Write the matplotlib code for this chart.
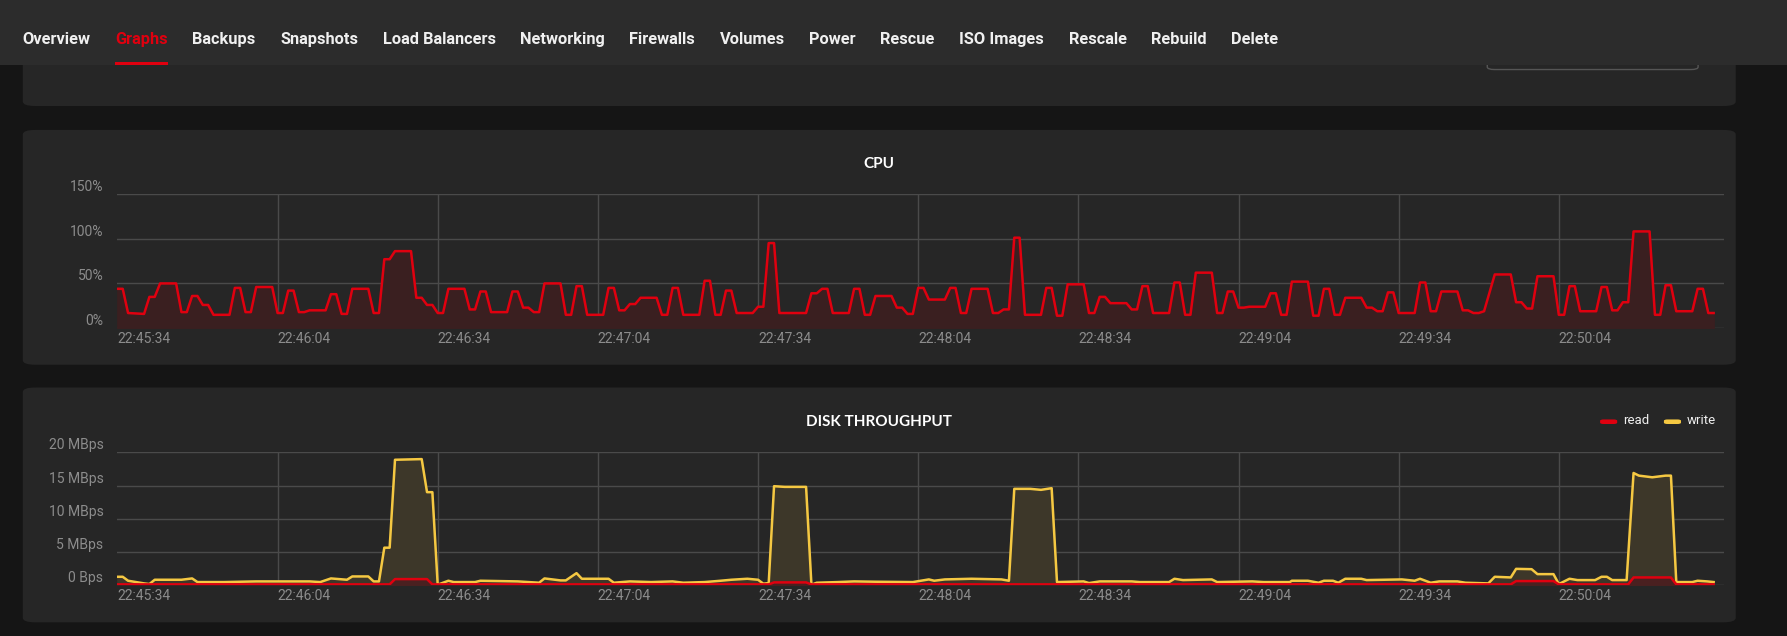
import matplotlib.pyplot as plt
from matplotlib.patches import FancyBboxPatch, Rectangle

# ---- data (seconds from 22:45:34) ----
tick_labels = ['22:45:34', '22:46:04', '22:46:34', '22:47:04', '22:47:34',
               '22:48:04', '22:48:34', '22:49:04', '22:49:34', '22:50:04']
tick_secs = [0, 30, 60, 90, 120, 150, 180, 210, 240, 270]

cpu_t = [0, 1, 2, 5, 6, 7, 8, 11, 12, 13, 14, 15, 16, 17, 18, 21, 22, 23, 24, 25, 26, 29, 30, 31,
         32, 33, 34, 35, 36, 39, 40, 41, 42, 43, 44, 47, 48, 49, 50, 51, 52, 55, 56, 57, 58, 59,
         60, 61, 62, 65, 66, 67, 68, 69, 70, 73, 74, 75, 76, 77, 78, 79, 80, 83, 84, 85, 86, 87,
         88, 91, 92, 93, 94, 95, 96, 97, 98, 101, 102, 103, 104, 105, 106, 109, 110, 111, 112, 113,
         114, 115, 116, 119, 120, 121, 122, 123, 124, 129, 130, 131, 132, 133, 134, 137, 138, 139,
         140, 141, 142, 145, 146, 147, 148, 149, 150, 151, 152, 155, 156, 157, 158, 159, 160, 163,
         164, 165, 166, 167, 168, 169, 170, 173, 174, 175, 176, 177, 178, 181, 182, 183, 184, 185,
         186, 189, 190, 191, 192, 193, 194, 197, 198, 199, 200, 201, 202, 205, 206, 207, 208, 209,
         210, 211, 212, 215, 216, 217, 218, 219, 220, 223, 224, 225, 226, 227, 228, 229, 230, 233,
         234, 235, 236, 237, 238, 239, 240, 243, 244, 245, 246, 247, 248, 251, 252, 253, 254, 255,
         256, 258, 261, 262, 263, 264, 265, 266, 269, 270, 271, 272, 273, 274, 277, 278, 279, 280,
         281, 282, 283, 284, 287, 288, 289, 290, 291, 292, 295, 296, 297, 298, 299]
cpu_v = [44, 44, 17, 16, 35, 35, 50, 50, 18, 18, 36, 36, 26, 26, 15, 15, 45, 45, 18, 18, 46, 46, 17, 17,
         42, 42, 18, 18, 20, 20, 38, 38, 16, 16, 44, 44, 17, 17, 77, 77, 86, 86, 34, 34, 26, 26,
         17, 17, 44, 44, 21, 21, 41, 41, 18, 18, 41, 41, 23, 23, 18, 18, 50, 50, 15, 15, 47, 47,
         15, 15, 45, 45, 20, 20, 27, 27, 34, 34, 15, 15, 45, 45, 15, 15, 53, 53, 15, 15,
         42, 42, 17, 17, 24, 24, 95, 95, 17, 17, 39, 39, 44, 44, 17, 17, 44, 44,
         15, 15, 36, 36, 23, 23, 16, 16, 45, 45, 32, 32, 45, 45, 17, 17, 44, 44,
         17, 17, 21, 21, 101, 101, 15, 15, 45, 45, 14, 14, 49, 49, 17, 17, 35, 35,
         28, 28, 21, 21, 47, 47, 17, 17, 51, 51, 15, 15, 62, 62, 17, 17, 41, 41,
         23, 23, 24, 24, 39, 39, 15, 15, 52, 52, 14, 14, 44, 44, 15, 15, 34, 34,
         23, 23, 19, 19, 40, 40, 17, 17, 51, 51, 19, 19, 41, 41, 20, 20, 17, 17,
         19, 60, 60, 29, 29, 22, 22, 58, 58, 15, 15, 47, 47, 19, 19, 46, 46, 20,
         20, 29, 29, 108, 108, 15, 15, 48, 48, 19, 19, 44, 44, 17, 17]

write_t = [0, 1, 2, 5, 6, 7, 12, 14, 15, 20, 26, 33, 36, 38, 40, 43, 44, 47, 48, 49, 50, 51, 52,
           57, 58, 59, 60, 62, 63, 67, 68, 75, 79, 80, 83, 84, 86, 87, 92, 93, 96, 100, 104, 106,
           110, 113, 115, 118, 120, 121, 122, 123, 125, 129, 130, 131, 135, 138, 142, 149, 152,
           153, 155, 160, 165.6, 167, 168, 171, 173, 175, 176, 181, 182, 184, 190, 191.5, 197,
           198, 199.6, 205, 206, 212.6, 214.7, 219.6, 220, 223, 225, 226, 227.7, 228.7, 230, 233,
           234, 240.6, 243, 244, 246, 247.6, 251, 252.5, 256.8, 258, 261, 262, 264.9, 266, 269,
           270, 272, 273.5, 276.8, 278, 279, 280, 282.7, 284, 285, 287.5, 290, 291, 292, 295, 296,
           297.8, 299]
write_v = [1.2, 1.2, 0.6, 0.2, 0.1, 0.75, 0.75, 0.95, 0.4, 0.4, 0.5, 0.5, 0.5, 0.4, 0.95, 0.75,
           1.25, 1.25, 0.5, 0.5, 5.6, 5.6, 18.9, 19.0, 14.0, 14.0, 0.0, 0.6, 0.4, 0.4, 0.6, 0.5,
           0.3, 0.95, 0.65, 0.65, 1.75, 0.9, 0.9, 0.3, 0.5, 0.4, 0.5, 0.3, 0.4, 0.6, 0.75, 0.9,
           0.75, 0.15, 0.25, 14.9, 14.8, 14.8, 0.0, 0.3, 0.4, 0.5, 0.45, 0.4, 0.8, 0.6, 0.8, 0.9,
           0.8, 0.6, 14.5, 14.5, 14.35, 14.6, 0.4, 0.5, 0.25, 0.5, 0.5, 0.4, 0.4, 0.9, 0.7, 0.8,
           0.4, 0.5, 0.4, 0.4, 0.6, 0.6, 0.3, 0.6, 0.6, 0.3, 0.9, 0.9, 0.7, 0.8, 0.6, 0.9, 0.3,
           0.5, 0.5, 0.3, 0.2, 1.2, 1.1, 2.4, 2.35, 1.6, 1.6, 0.1, 0.9, 0.7, 0.7, 1.2, 1.2, 0.7,
           0.7, 16.9, 16.5, 16.25, 16.5, 16.5, 0.4, 0.4, 0.6, 0.5, 0.4]

read_t = [0, 51, 52, 58, 59, 122, 123, 129, 130, 261, 262, 269, 270, 283, 284, 291, 292, 299]
read_v = [0.05, 0.05, 0.85, 0.85, 0.05, 0.05, 0.35, 0.35, 0.05, 0.05, 0.55, 0.55, 0.05, 0.05,
          1.1, 1.1, 0.05, 0.05]

cpu_ticks = [0, 50, 100, 150]
cpu_tick_labels = ['0%', '50%', '100%', '150%']
disk_ticks = [0, 5, 10, 15, 20]
disk_tick_labels = ['0 Bps', '5 MBps', '10 MBps', '15 MBps', '20 MBps']

tabs = ['Overview', 'Graphs', 'Backups', 'Snapshots', 'Load Balancers', 'Networking',
        'Firewalls', 'Volumes', 'Power', 'Rescue', 'ISO Images', 'Rescale', 'Rebuild', 'Delete']

PAGE = '#151515'
CARD = '#262626'
NAV = '#2c2c2c'
GRID = '#4a4a4a'
TICK = '#8c8c8c'
RED = '#e0000f'
YELLOW = '#f5c842'
W, H = 1568.0, 558.0  # layout measured in reference pixels

plt.rcParams['font.family'] = ['Roboto', 'DejaVu Sans']
fig = plt.figure(figsize=(17.87, 6.36), dpi=100, facecolor=PAGE)


def fx(x):
    return x / W


def fy(y):
    return 1 - y / H


def card(x0, y0, x1, y1):
    fig.patches.append(FancyBboxPatch((fx(x0), fy(y1)), fx(x1 - x0), (y1 - y0) / H,
                                      boxstyle='round,pad=0,rounding_size=0.007',
                                      transform=fig.transFigure, facecolor=CARD,
                                      edgecolor='none', mutation_aspect=H / W * 2.8,
                                      zorder=-2))


# top card remainder + nav bar
card(20, 40, 1523, 93)
fig.patches.append(FancyBboxPatch((fx(1305), fy(61)), fx(185), 20 / H,
                                  boxstyle='round,pad=0,rounding_size=0.004',
                                  transform=fig.transFigure, facecolor='none',
                                  edgecolor='#555555', lw=1, zorder=-1))
fig.patches.append(Rectangle((0, fy(57)), 1, 57 / H, transform=fig.transFigure,
                             facecolor=NAV, edgecolor='none', zorder=-1))
x = 20
r = fig.canvas.get_renderer()
for t in tabs:
    txt = fig.text(fx(x), fy(35), t, color=RED if t == 'Graphs' else '#f0f0f0',
                   fontsize=11.8, fontweight='bold', va='center', ha='left')
    bb = txt.get_window_extent(renderer=r)
    wpx = bb.width / fig.bbox.width * W
    if t == 'Graphs':
        fig.patches.append(Rectangle((fx(x), fy(57)), fx(wpx), 2.5 / H,
                                     transform=fig.transFigure, facecolor=RED))
    x += wpx + 21.5

card(20, 114, 1523, 320)
card(20, 340, 1523, 546)


def setup(ax, ticks, labels, ymax):
    ax.set_facecolor('none')
    ax.set_xlim(0, 301)
    ax.set_ylim(0, ymax)
    for s in ax.spines.values():
        s.set_visible(False)
    ax.set_xticks(tick_secs)
    ax.set_xticklabels(tick_labels, ha='left', color=TICK, fontsize=10)
    ax.tick_params(length=0, pad=3)
    ax.set_yticks([])
    for v in tick_secs[1:]:
        ax.axvline(v, color=GRID, lw=1, zorder=0)
    for v, lab in zip(ticks, labels):
        ax.axhline(v, color=GRID, lw=1, zorder=0)
        ax.annotate(lab, (0, v), xycoords=('axes fraction', 'data'), xytext=(-10, 0),
                    textcoords='offset points', ha='right', va='bottom',
                    color=TICK, fontsize=10)


ax1 = fig.add_axes([fx(103), fy(288), fx(1410), 118 / H])
setup(ax1, cpu_ticks, cpu_tick_labels, 150)
ax1.fill_between(cpu_t, cpu_v, color='#3a1f20', zorder=1)
ax1.plot(cpu_t, cpu_v, color=RED, lw=1.8, zorder=2)
fig.text(fx(771), fy(144), 'CPU', color='white', fontsize=11, fontweight='bold',
         ha='center', va='center', family=['Lato', 'DejaVu Sans'])

ax2 = fig.add_axes([fx(103), fy(513), fx(1410), 116 / H])
setup(ax2, disk_ticks, disk_tick_labels, 20)
ax2.fill_between(write_t, write_v, color='#3d3729', zorder=1)
ax2.plot(write_t, write_v, color=YELLOW, lw=1.8, zorder=3)
ax2.fill_between(read_t, read_v, color='#4a2020', zorder=2)
ax2.plot(read_t, read_v, color=RED, lw=1.8, zorder=4)
fig.text(fx(771), fy(370), 'DISK THROUGHPUT', color='white', fontsize=11, fontweight='bold',
         ha='center', va='center', family=['Lato', 'DejaVu Sans'])

for xx, col, lab in [(1404, RED, 'read'), (1460, YELLOW, 'write')]:
    fig.patches.append(FancyBboxPatch((fx(xx), fy(372)), fx(15), 4 / H,
                                      boxstyle='round,pad=0,rounding_size=0.002',
                                      transform=fig.transFigure, facecolor=col,
                                      edgecolor='none'))
    fig.text(fx(xx + 20), fy(369), lab, color='#eeeeee', fontsize=9.5, va='center', ha='left')

fig.savefig('out.png', dpi=100, facecolor=PAGE)
